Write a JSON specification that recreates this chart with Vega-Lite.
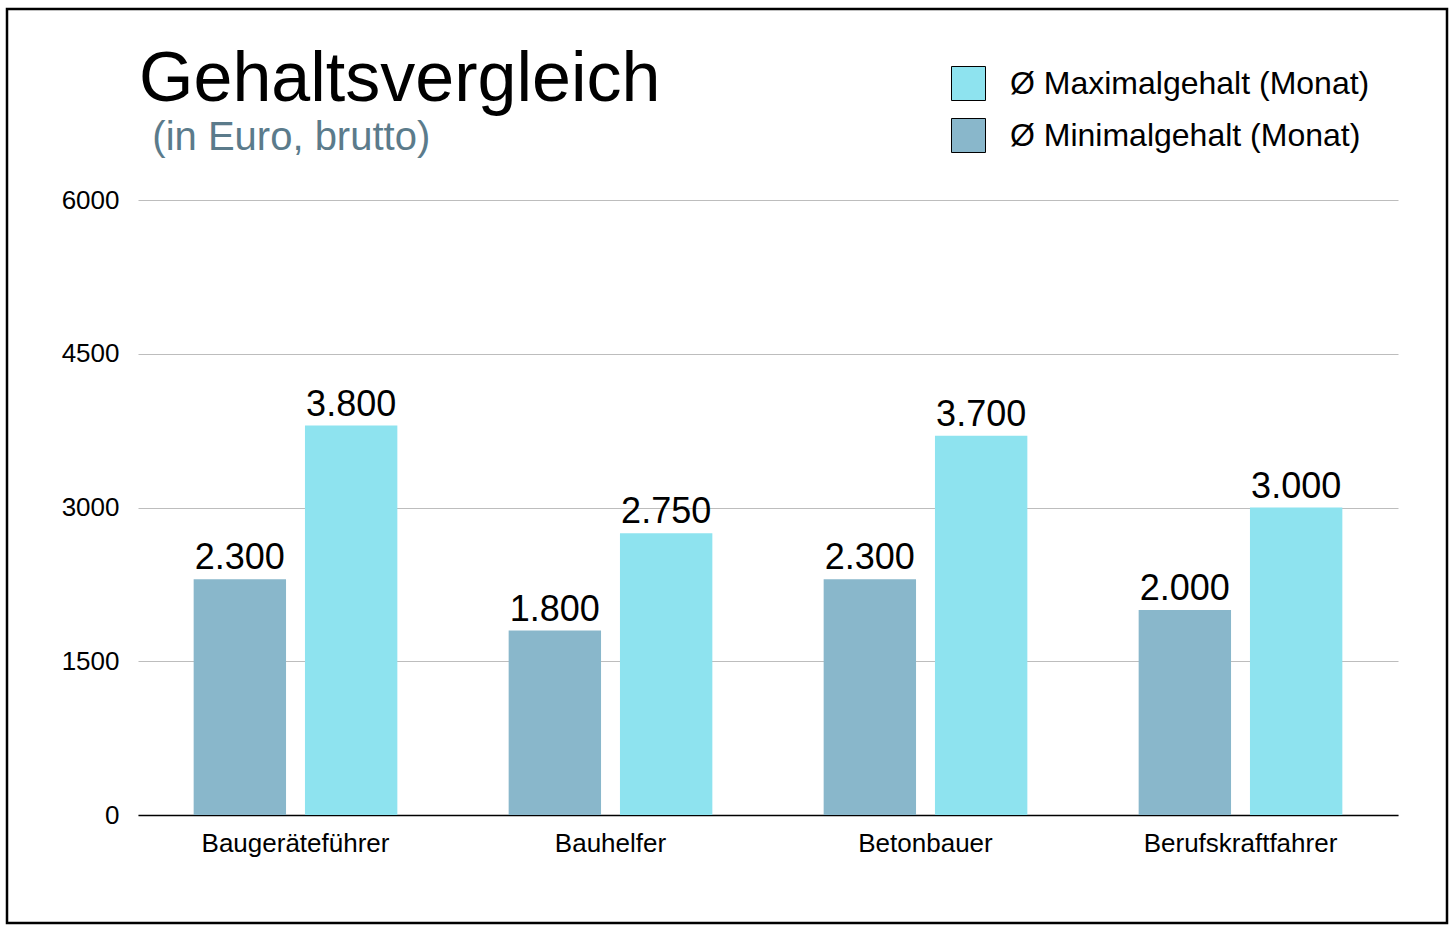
{
  "$schema": "https://vega.github.io/schema/vega-lite/v6.json",
  "autosize": {"type": "none"},
  "padding": {"left": 7, "top": 9, "right": 9, "bottom": 11},
  "width": 1440,
  "height": 914,
  "background": "#ffffff",
  "title": {
    "text": "Gehaltsvergleich",
    "subtitle": "\u200b\u2004(in Euro, brutto)",
    "anchor": "start",
    "frame": "group",
    "dx": 132,
    "offset": -150,
    "font": "Liberation Sans",
    "fontSize": 70,
    "fontWeight": "normal",
    "color": "#000000",
    "subtitleFont": "Liberation Sans",
    "subtitleFontSize": 40,
    "subtitleColor": "#5B7B8B",
    "subtitlePadding": 2
  },
  "data": {
    "values": [
      {"Beruf": "Baugeräteführer", "Typ": "Ø Minimalgehalt (Monat)", "Gehalt": 2300},
      {"Beruf": "Baugeräteführer", "Typ": "Ø Maximalgehalt (Monat)", "Gehalt": 3800},
      {"Beruf": "Bauhelfer", "Typ": "Ø Minimalgehalt (Monat)", "Gehalt": 1800},
      {"Beruf": "Bauhelfer", "Typ": "Ø Maximalgehalt (Monat)", "Gehalt": 2750},
      {"Beruf": "Betonbauer", "Typ": "Ø Minimalgehalt (Monat)", "Gehalt": 2300},
      {"Beruf": "Betonbauer", "Typ": "Ø Maximalgehalt (Monat)", "Gehalt": 3700},
      {"Beruf": "Berufskraftfahrer", "Typ": "Ø Minimalgehalt (Monat)", "Gehalt": 2000},
      {"Beruf": "Berufskraftfahrer", "Typ": "Ø Maximalgehalt (Monat)", "Gehalt": 3000}
    ]
  },
  "encoding": {
    "x": {
      "field": "Beruf",
      "type": "nominal",
      "sort": ["Baugeräteführer", "Bauhelfer", "Betonbauer", "Berufskraftfahrer"],
      "scale": {"range": [131, 1391], "paddingInner": 0, "paddingOuter": 0},
      "axis": {
        "title": null,
        "orient": "bottom",
        "offset": -108,
        "labelAngle": 0,
        "ticks": false,
        "labelPadding": 15,
        "labelLimit": 400,
        "labelFont": "Liberation Sans",
        "labelFontSize": 26,
        "labelColor": "#000000",
        "domain": true,
        "domainColor": "#000000",
        "domainWidth": 1.5,
        "grid": false
      }
    },
    "xOffset": {
      "field": "Typ",
      "type": "nominal",
      "sort": ["Ø Minimalgehalt (Monat)", "Ø Maximalgehalt (Monat)"],
      "scale": {"paddingInner": 0.17, "paddingOuter": 0.5}
    },
    "y": {
      "field": "Gehalt",
      "type": "quantitative",
      "scale": {"domain": [0, 6000], "range": [806, 191], "nice": false},
      "axis": {
        "title": null,
        "values": [0, 1500, 3000, 4500, 6000],
        "format": "d",
        "offset": -131,
        "domain": false,
        "ticks": false,
        "labelPadding": 19,
        "labelFont": "Liberation Sans",
        "labelFontSize": 26,
        "labelColor": "#000000",
        "grid": true,
        "gridColor": "#BDBDBD",
        "gridWidth": 1
      }
    }
  },
  "layer": [
    {
      "mark": {"type": "bar"},
      "encoding": {
        "color": {
          "field": "Typ",
          "type": "nominal",
          "scale": {
            "domain": ["Ø Maximalgehalt (Monat)", "Ø Minimalgehalt (Monat)"],
            "range": ["#8EE3EF", "#89B7CB"]
          },
          "legend": {
            "title": null,
            "orient": "none",
            "legendX": 944,
            "legendY": 57,
            "symbolType": "square",
            "symbolSize": 1156,
            "symbolStrokeColor": "#000000",
            "symbolStrokeWidth": 1,
            "symbolOpacity": 1,
            "labelFont": "Liberation Sans",
            "labelFontSize": 32,
            "labelColor": "#000000",
            "labelOffset": 24,
            "labelLimit": 600,
            "rowPadding": 13,
            "padding": 0
          }
        }
      }
    },
    {
      "mark": {"type": "text", "baseline": "alphabetic", "dy": -10, "font": "Liberation Sans", "fontSize": 36, "color": "#000000"},
      "encoding": {
        "text": {"field": "Gehalt", "type": "quantitative", "format": ","}
      }
    }
  ],
  "config": {
    "locale": {"number": {"decimal": ",", "thousands": ".", "grouping": [3], "currency": ["", " €"]}},
    "view": {"stroke": "#000000", "strokeWidth": 2.5, "fill": "#ffffff"}
  }
}
